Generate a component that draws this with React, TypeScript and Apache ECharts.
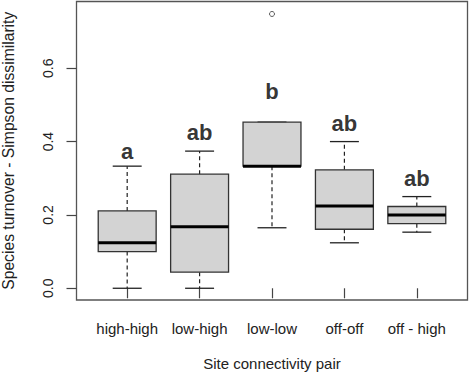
import React, { useEffect, useRef } from "react";
import * as echarts from "echarts";

const categories = ["high-high", "low-high", "low-low", "off-off", "off - high"];
const whiskerLow = [0, 0, 0.165, 0.124, 0.153];
const q1 = [0.1, 0.044, 0.333, 0.161, 0.176];
const medians = [0.124, 0.168, 0.333, 0.224, 0.2];
const q3 = [0.211, 0.311, 0.453, 0.323, 0.223];
const whiskerHigh = [0.333, 0.374, 0.453, 0.4, 0.25];
const outliers: number[][] = [[3, 0.748]];
const letters = ["a", "ab", "b", "ab", "ab"];
const letterY = [0.373, 0.424, 0.536, 0.45, 0.298];
const yTicks = [0, 0.2, 0.4, 0.6];
const xTicks = [1, 2, 3, 4, 5];

const FONT = "'Liberation Sans', Arial, sans-serif";

export default function App() {
  const ref = useRef<HTMLDivElement>(null);
  useEffect(() => {
    if (!ref.current) return;
    const chart = echarts.init(ref.current, undefined, { renderer: "svg" });
    const boxData = categories.map((_, i) => [
      i + 1,
      whiskerLow[i],
      q1[i],
      medians[i],
      q3[i],
      whiskerHigh[i],
    ]);
    const letterData = letters.map((l, i) => ({ value: [i + 1, letterY[i]], name: l }));
    chart.setOption({
      animation: false,
      textStyle: { fontFamily: FONT },
      grid: {
        left: 76.5,
        right: 6.5,
        top: 1.5,
        bottom: 76,
        outerBoundsMode: "none",
        containLabel: false,
        show: true,
        borderColor: "#555",
        borderWidth: 1.3,
        backgroundColor: "transparent",
      },
      xAxis: {
        type: "value",
        min: 0.3,
        max: 5.7,
        axisLine: { show: false },
        splitLine: { show: false },
        axisTick: {
          show: true,
          customValues: xTicks,
          length: 10,
          lineStyle: { color: "#444", width: 1.2 },
        },
        axisLabel: {
          customValues: xTicks,
          formatter: (v: number) => categories[Math.round(v) - 1] ?? "",
          fontSize: 15,
          color: "#222",
          margin: 21,
          fontFamily: FONT,
        },
        name: "Site connectivity pair",
        nameLocation: "middle",
        nameGap: 56,
        nameTextStyle: { fontSize: 15, color: "#222", fontFamily: FONT },
      },
      yAxis: {
        type: "value",
        min: -0.032,
        max: 0.782,
        axisLine: { show: false },
        splitLine: { show: false },
        axisTick: {
          show: true,
          customValues: yTicks,
          length: 10,
          lineStyle: { color: "#444", width: 1.2 },
        },
        axisLabel: {
          customValues: yTicks,
          formatter: (v: number) => v.toFixed(1),
          rotate: 90,
          fontSize: 14,
          color: "#222",
          margin: 22,
          fontFamily: FONT,
        },
        name: "Species turnover - Simpson dissimilarity",
        nameLocation: "middle",
        nameRotate: 90,
        nameGap: 60,
        nameTextStyle: { fontSize: 15.7, color: "#222", fontFamily: FONT },
      },
      series: [
        {
          type: "custom",
          data: boxData,
          renderItem: (_params: any, api: any) => {
            const x = api.value(0);
            const lo = api.value(1);
            const a = api.value(2);
            const m = api.value(3);
            const b = api.value(4);
            const hi = api.value(5);
            const half = api.size([0.4, 0])[0];
            const cap = api.size([0.2, 0])[0];
            const pLo = api.coord([x, lo]);
            const pA = api.coord([x, a]);
            const pM = api.coord([x, m]);
            const pB = api.coord([x, b]);
            const pHi = api.coord([x, hi]);
            const cx = pA[0];
            const dash = { stroke: "#222", lineWidth: 1.2, lineDash: [4, 3] };
            const solid = { stroke: "#222", lineWidth: 1.3 };
            return {
              type: "group",
              children: [
                { type: "line", shape: { x1: cx, y1: pB[1], x2: cx, y2: pHi[1] }, style: dash },
                { type: "line", shape: { x1: cx, y1: pA[1], x2: cx, y2: pLo[1] }, style: dash },
                { type: "line", shape: { x1: cx - cap, y1: pHi[1], x2: cx + cap, y2: pHi[1] }, style: solid },
                { type: "line", shape: { x1: cx - cap, y1: pLo[1], x2: cx + cap, y2: pLo[1] }, style: solid },
                {
                  type: "rect",
                  shape: { x: cx - half, y: pB[1], width: 2 * half, height: pA[1] - pB[1] },
                  style: { fill: "#d3d3d3", stroke: "#333", lineWidth: 1.3 },
                },
                {
                  type: "line",
                  shape: { x1: cx - half, y1: pM[1], x2: cx + half, y2: pM[1] },
                  style: { stroke: "#000", lineWidth: 3 },
                },
              ],
            };
          },
        },
        {
          type: "scatter",
          data: outliers,
          symbol: "circle",
          symbolSize: 5,
          itemStyle: { color: "#ffffff", borderColor: "#333333", borderWidth: 1 },
        },
        {
          type: "scatter",
          data: letterData,
          symbol: "circle",
          symbolSize: 1,
          itemStyle: { color: "rgba(0,0,0,0)" },
          label: {
            show: true,
            position: "inside",
            formatter: (p: any) => p.name,
            fontSize: 22,
            fontWeight: "bold",
            color: "#000",
            textBorderWidth: 0,
            fontFamily: FONT,
          },
        },
      ],
    });
    return () => chart.dispose();
  }, []);
  return (
    <div
      ref={ref}
      style={{ position: "fixed", left: 0, top: 0, width: 474, height: 376, background: "#fff" }}
    />
  );
}
